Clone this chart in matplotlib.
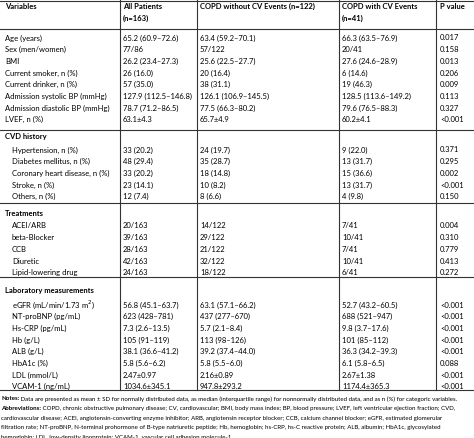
import matplotlib.pyplot as plt

plt.rcParams['font.family'] = ['Lato', 'DejaVu Sans']

headers = ['Variables', 'All Patients\n(n=163)', 'COPD without CV Events (n=122)',
           'COPD with CV Events\n(n=41)', 'P value']

general = [
    ('Age (years)', '65.2 (60.9–72.6)', '63.4 (59.2–70.1)', '66.3 (63.5–76.9)', '0.017'),
    ('Sex (men/women)', '77/86', '57/122', '20/41', '0.158'),
    ('BMI', '26.2 (23.4–27.3)', '25.6 (22.5–27.7)', '27.6 (24.6–28.9)', '0.013'),
    ('Current smoker, n (%)', '26 (16.0)', '20 (16.4)', '6 (14.6)', '0.206'),
    ('Current drinker, n (%)', '57 (35.0)', '38 (31.1)', '19 (46.3)', '0.009'),
    ('Admission systolic BP (mmHg)', '127.9 (112.5–146.8)', '126.1 (106.9–145.5)', '128.5 (113.6–149.2)', '0.113'),
    ('Admission diastolic BP (mmHg)', '78.7 (71.2–86.5)', '77.5 (66.3–80.2)', '79.6 (76.5–88.3)', '0.327'),
    ('LVEF, n (%)', '63.1±4.3', '65.7±4.9', '60.2±4.1', '<0.001'),
]
cvd = [
    ('Hypertension, n (%)', '33 (20.2)', '24 (19.7)', '9 (22.0)', '0.371'),
    ('Diabetes mellitus, n (%)', '48 (29.4)', '35 (28.7)', '13 (31.7)', '0.295'),
    ('Coronary heart disease, n (%)', '33 (20.2)', '18 (14.8)', '15 (36.6)', '0.002'),
    ('Stroke, n (%)', '23 (14.1)', '10 (8.2)', '13 (31.7)', '<0.001'),
    ('Others, n (%)', '12 (7.4)', '8 (6.6)', '4 (9.8)', '0.150'),
]
treatments = [
    ('ACEI/ARB', '20/163', '14/122', '7/41', '0.004'),
    ('beta-Blocker', '39/163', '29/122', '10/41', '0.310'),
    ('CCB', '28/163', '21/122', '7/41', '0.779'),
    ('Diuretic', '42/163', '32/122', '10/41', '0.413'),
    ('Lipid-lowering drug', '24/163', '18/122', '6/41', '0.272'),
]
lab = [
    ('eGFR (mL/min/1.73 m$^2$)', '56.8 (45.1–63.7)', '63.1 (57.1–66.2)', '52.7 (43.2–60.5)', '<0.001'),
    ('NT-proBNP (pg/mL)', '623 (428–781)', '437 (277–670)', '688 (521–947)', '<0.001'),
    ('Hs-CRP (pg/mL)', '7.3 (2.6–13.5)', '5.7 (2.1–8.4)', '9.8 (3.7–17.6)', '<0.001'),
    ('Hb (g/L)', '105 (91–119)', '113 (98–126)', '101 (85–112)', '<0.001'),
    ('ALB (g/L)', '38.1 (36.6–41.2)', '39.2 (37.4–44.0)', '36.3 (34.2–39.3)', '<0.001'),
    ('HbA1c (%)', '5.8 (5.6–6.2)', '5.8 (5.5–6.0)', '6.1 (5.8–6.5)', '0.088'),
    ('LDL (mmol/L)', '2.47±0.97', '2.16±0.89', '2.67±1.38', '<0.001'),
    ('VCAM-1 (ng/mL)', '1034.6±345.1', '947.8±293.2', '1174.4±365.3', '<0.001'),
]
notes = [
    ('Notes:', ' Data are presented as mean ± SD for normally distributed data, as median (interquartile range) for nonnormally distributed data, and as n (%) for categoric variables.'),
    ('Abbreviations:', ' COPD, chronic obstructive pulmonary disease; CV, cardiovascular; BMI, body mass index; BP, blood pressure; LVEF, left ventricular ejection fraction; CVD,'),
    ('', 'cardiovascular disease; ACEI, angiotensin-converting enzyme inhibitor; ARB, angiotensin receptor blocker; CCB, calcium channel blocker; eGFR, estimated glomerular'),
    ('', 'filtration rate; NT-proBNP, N-terminal prohormone of B-type natriuretic peptide; Hb, hemoglobin; hs-CRP, hs-C reactive protein; ALB, albumin; HbA1c, glycosylated'),
    ('', 'hemoglobin; LDL, low-density lipoprotein; VCAM-1, vascular cell adhesion molecule-1.'),
]

W, H = 474, 438
fig = plt.figure(figsize=(W / 100, H / 100), dpi=100)
ax = fig.add_axes([0, 0, 1, 1])
ax.set_xlim(0, W)
ax.set_ylim(H, 0)
ax.axis('off')

col_x = [5, 123, 200, 342, 440]
vlines = [120, 197, 339, 436]
fs = 5.5
lc = '#333333'

for x, h in zip(col_x, headers):
    ax.text(x, 3, h, fontsize=fs, fontweight='bold', va='top', linespacing=1.8)

def rows(data, y0, indent=0):
    for i, r in enumerate(data):
        y = y0 + i * 11.7
        for j, (x, t) in enumerate(zip(col_x, r)):
            ax.text(x + (indent if j == 0 else 0), y, t, fontsize=fs, va='center')

rows(general, 38)
ax.text(5, 137, 'CVD history', fontsize=fs, fontweight='bold', va='center')
rows(cvd, 150, indent=7)
ax.text(5, 214, 'Treatments', fontsize=fs, fontweight='bold', va='center')
rows(treatments, 226, indent=7)
ax.text(5, 290, 'Laboratory measurements', fontsize=fs, fontweight='bold', va='center')
rows(lab, 305, indent=7)

for y in [0.5, 29, 130, 203, 277, 390]:
    ax.plot([0, W], [y, y], color=lc, lw=0.8)
for x in vlines:
    ax.plot([x, x], [0, 390], color=lc, lw=0.8)

fig.canvas.draw()
renderer = fig.canvas.get_renderer()
for i, (b, t) in enumerate(notes):
    y = 399 + i * 9.6
    x = 1
    if b:
        bt = ax.text(x, y, b, fontsize=4.4, fontweight='bold', va='center')
        bb = bt.get_window_extent(renderer)
        x = 1 + bb.width
    ax.text(x, y, t, fontsize=4.4, va='center')

fig.savefig('out.png', dpi=100, facecolor='white')
